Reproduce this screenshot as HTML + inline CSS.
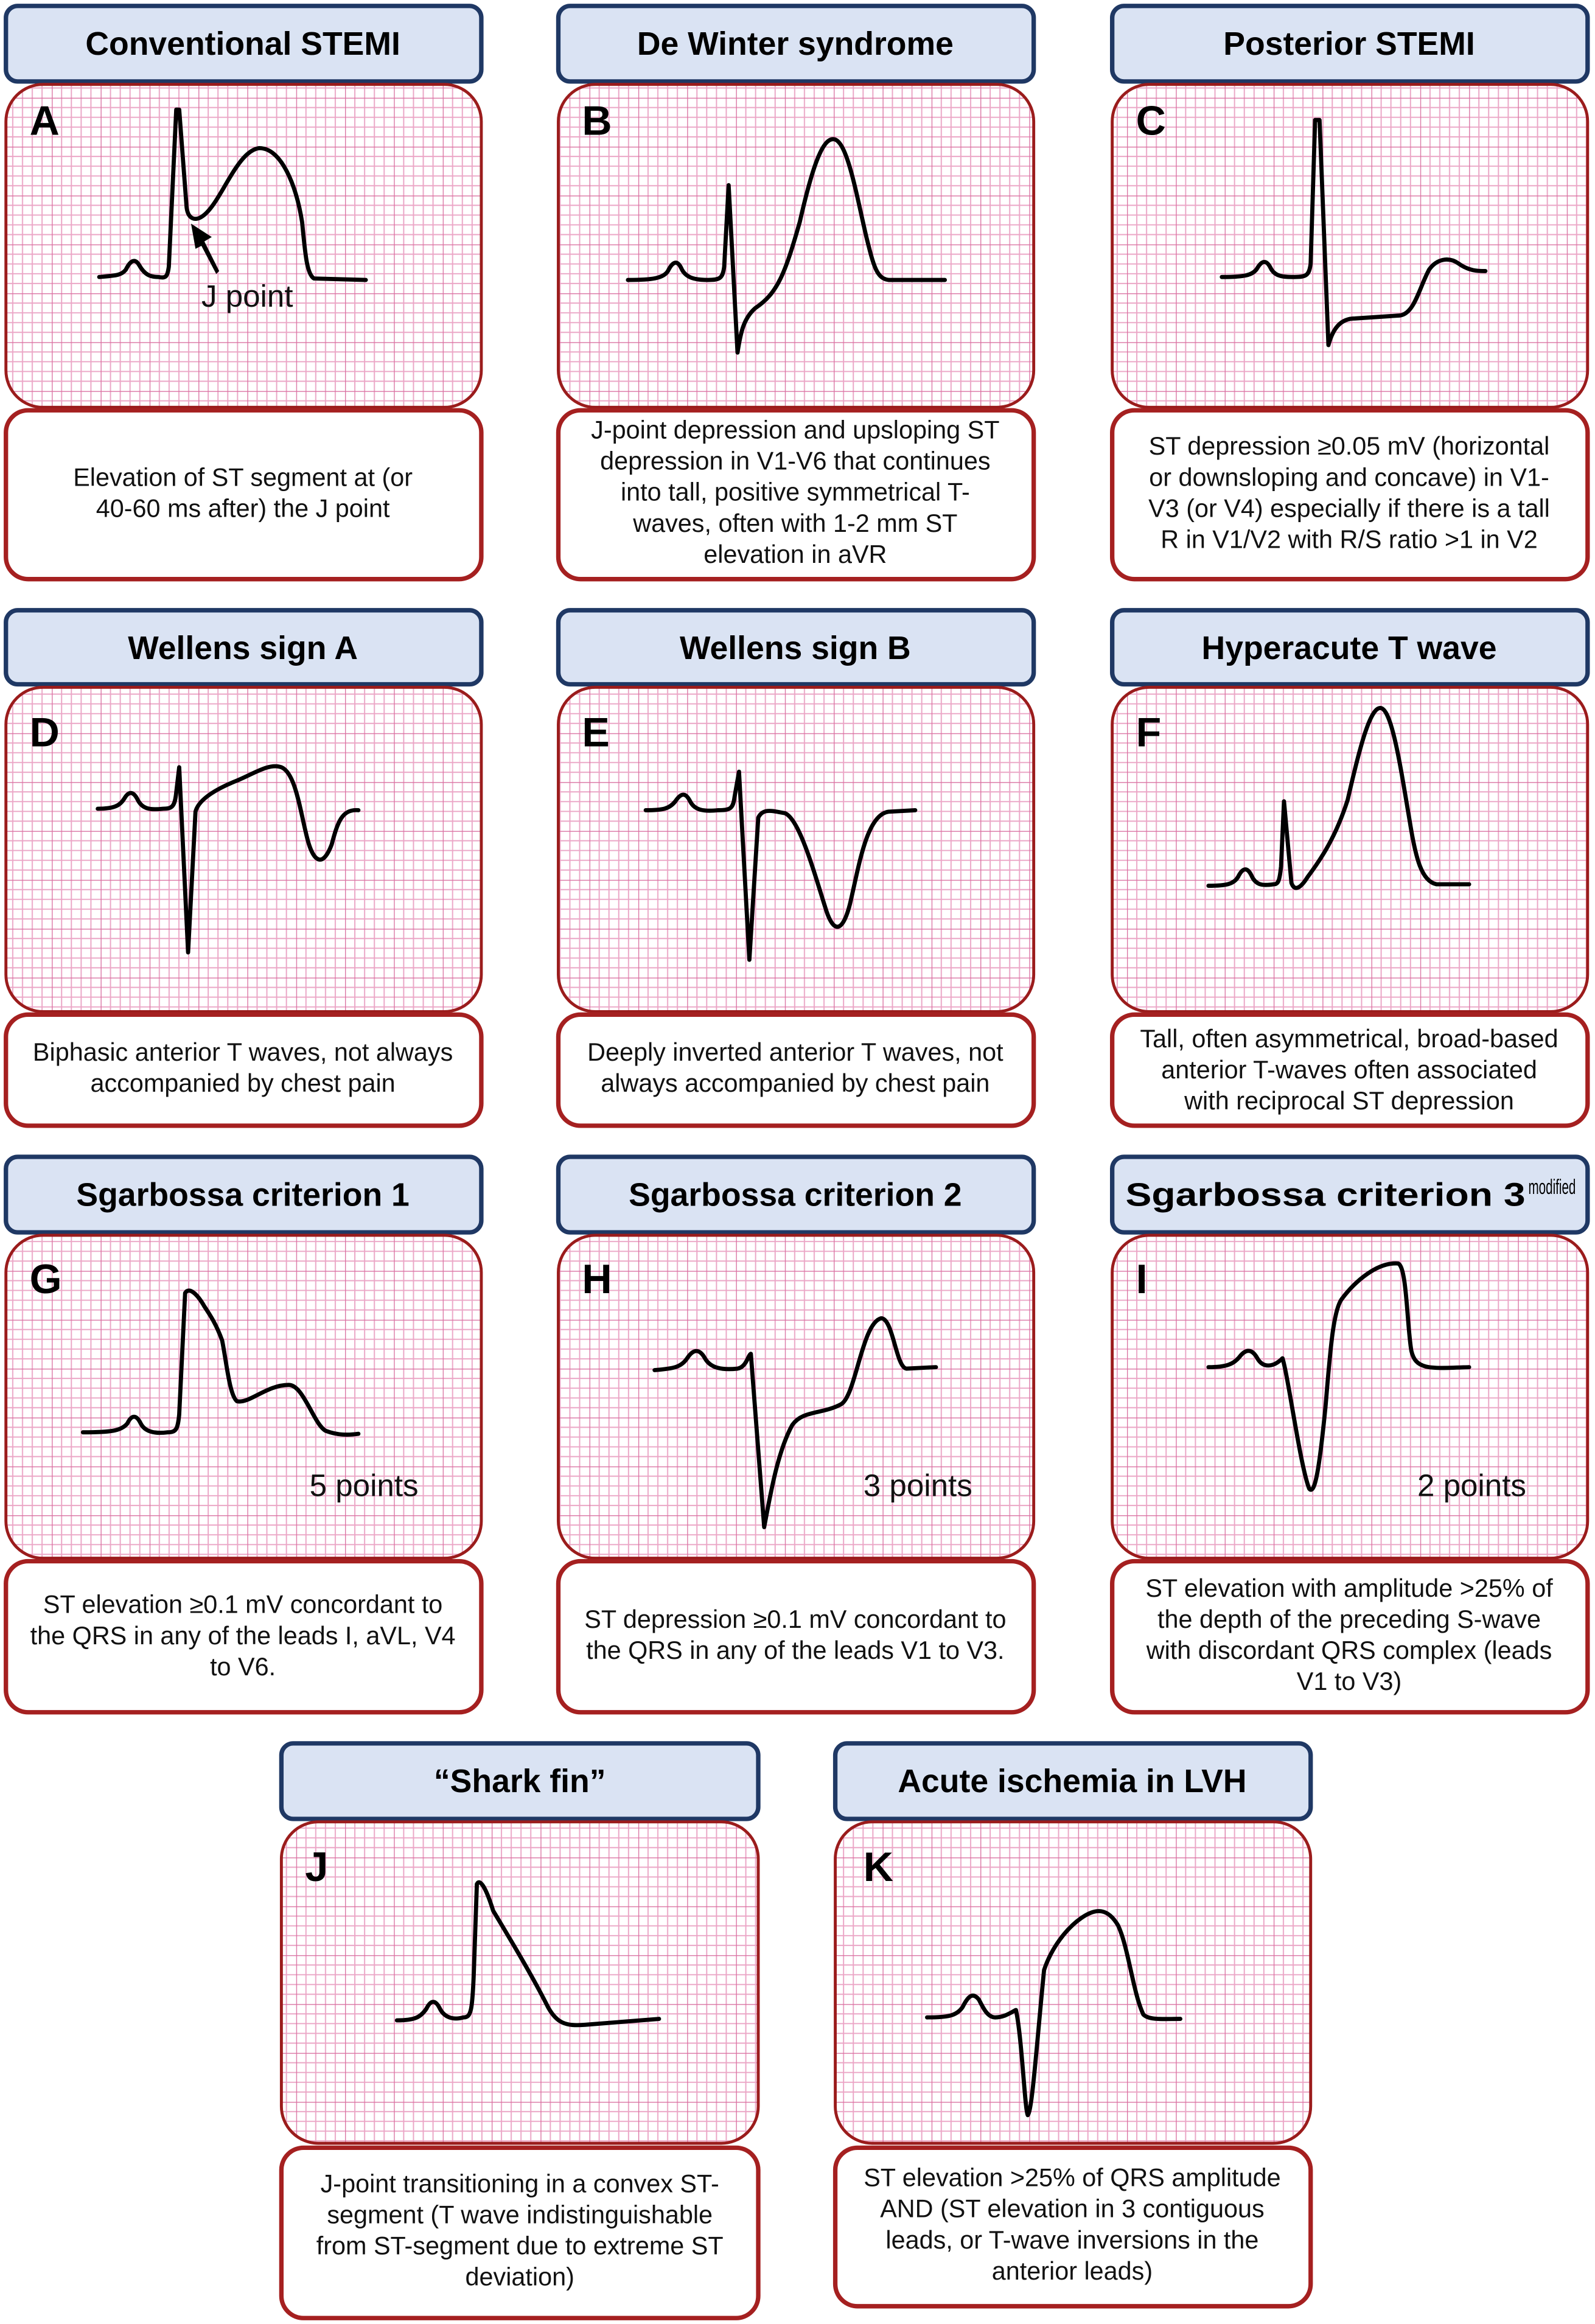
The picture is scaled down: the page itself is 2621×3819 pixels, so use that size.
<!DOCTYPE html>
<html><head><meta charset="utf-8"><style>
html,body{margin:0;padding:0;background:#fff}
svg{display:block}
text{font-family:"Liberation Sans",Arial,sans-serif}
.t{font-weight:bold;font-size:22px;fill:#000;text-anchor:middle}
.l{font-size:28px;fill:#000;font-weight:bold}
.c{font-size:17px;fill:#111;text-anchor:middle}
.w{fill:none;stroke:#000;stroke-width:2.8;stroke-linejoin:round;stroke-linecap:round}
.tb{fill:#dae3f3;stroke:#1f3864;stroke-width:3}
.gp{fill:url(#grid);stroke:#9b1c1c;stroke-width:2}
.cb{fill:#fff;stroke:#a52020;stroke-width:3}
</style></head><body>
<svg width="2621" height="3819" viewBox="0 0 1077 1569" preserveAspectRatio="none" xmlns="http://www.w3.org/2000/svg">
<defs>
<pattern id="grid" width="33" height="33" patternUnits="userSpaceOnUse" x="2" y="0">
<rect width="33" height="33" fill="#fff"/>
<path d="M6.6 0V33M13.2 0V33M19.8 0V33M26.4 0V33M0 6.6H33M0 13.2H33M0 19.8H33M0 26.4H33" stroke="#eba6c6" stroke-width="0.8"/>
<path d="M0 0V33M0 0H33" stroke="#da72a2" stroke-width="1.1"/>
</pattern>
</defs>

<!-- Row 1 -->
<rect class="tb" x="4" y="4" width="321" height="51" rx="8"/><text class="t" x="164" y="37">Conventional STEMI</text>
<rect class="gp" x="4" y="57" width="321" height="218" rx="25"/><text class="l" x="20" y="91">A</text>
<rect class="cb" x="4" y="277" width="321" height="114" rx="15"/>
<text class="c" x="164" y="328">Elevation of ST segment at (or</text><text class="c" x="164" y="349">40-60 ms after) the J point</text>

<rect class="tb" x="377" y="4" width="321" height="51" rx="8"/><text class="t" x="537" y="37">De Winter syndrome</text>
<rect class="gp" x="377" y="57" width="321" height="218" rx="25"/><text class="l" x="393" y="91">B</text>
<rect class="cb" x="377" y="277" width="321" height="114" rx="15"/>
<text class="c" x="537" y="296">J-point depression and upsloping ST</text><text class="c" x="537" y="317">depression in V1-V6 that continues</text><text class="c" x="537" y="338">into tall, positive symmetrical T-</text><text class="c" x="537" y="359">waves, often with 1-2 mm ST</text><text class="c" x="537" y="380">elevation in aVR</text>

<rect class="tb" x="751" y="4" width="321" height="51" rx="8"/><text class="t" x="911" y="37">Posterior STEMI</text>
<rect class="gp" x="751" y="57" width="321" height="218" rx="25"/><text class="l" x="767" y="91">C</text>
<rect class="cb" x="751" y="277" width="321" height="114" rx="15"/>
<text class="c" x="911" y="307">ST depression ≥0.05 mV (horizontal</text><text class="c" x="911" y="328">or downsloping and concave) in V1-</text><text class="c" x="911" y="349">V3 (or V4) especially if there is a tall</text><text class="c" x="911" y="370">R in V1/V2 with R/S ratio &gt;1 in V2</text>

<!-- Row 2 -->
<rect class="tb" x="4" y="412" width="321" height="50" rx="8"/><text class="t" x="164" y="445">Wellens sign A</text>
<rect class="gp" x="4" y="464" width="321" height="219" rx="25"/><text class="l" x="20" y="504">D</text>
<rect class="cb" x="4" y="685" width="321" height="75" rx="15"/>
<text class="c" x="164" y="716">Biphasic anterior T waves, not always</text><text class="c" x="164" y="737">accompanied by chest pain</text>

<rect class="tb" x="377" y="412" width="321" height="50" rx="8"/><text class="t" x="537" y="445">Wellens sign B</text>
<rect class="gp" x="377" y="464" width="321" height="219" rx="25"/><text class="l" x="393" y="504">E</text>
<rect class="cb" x="377" y="685" width="321" height="75" rx="15"/>
<text class="c" x="537" y="716">Deeply inverted anterior T waves, not</text><text class="c" x="537" y="737">always accompanied by chest pain</text>

<rect class="tb" x="751" y="412" width="321" height="50" rx="8"/><text class="t" x="911" y="445">Hyperacute T wave</text>
<rect class="gp" x="751" y="464" width="321" height="219" rx="25"/><text class="l" x="767" y="504">F</text>
<rect class="cb" x="751" y="685" width="321" height="75" rx="15"/>
<text class="c" x="911" y="707">Tall, often asymmetrical, broad-based</text><text class="c" x="911" y="728">anterior T-waves often associated</text><text class="c" x="911" y="749">with reciprocal ST depression</text>

<!-- Row 3 -->
<rect class="tb" x="4" y="781" width="321" height="51" rx="8"/><text class="t" x="164" y="814">Sgarbossa criterion 1</text>
<rect class="gp" x="4" y="834" width="321" height="218" rx="25"/><text class="l" x="20" y="873">G</text>
<rect class="cb" x="4" y="1054" width="321" height="102" rx="15"/>
<text class="c" x="164" y="1089">ST elevation ≥0.1 mV concordant to</text><text class="c" x="164" y="1110">the QRS in any of the leads I, aVL, V4</text><text class="c" x="164" y="1131">to V6.</text>

<rect class="tb" x="377" y="781" width="321" height="51" rx="8"/><text class="t" x="537" y="814">Sgarbossa criterion 2</text>
<rect class="gp" x="377" y="834" width="321" height="218" rx="25"/><text class="l" x="393" y="873">H</text>
<rect class="cb" x="377" y="1054" width="321" height="102" rx="15"/>
<text class="c" x="537" y="1099">ST depression ≥0.1 mV concordant to</text><text class="c" x="537" y="1120">the QRS in any of the leads V1 to V3.</text>

<rect class="tb" x="751" y="781" width="321" height="51" rx="8"/><text x="760" y="814" textLength="270" lengthAdjust="spacingAndGlyphs" style="font-weight:bold;font-size:22px">Sgarbossa criterion 3</text><text x="1032" y="806" textLength="32" lengthAdjust="spacingAndGlyphs" style="font-size:14px">modified</text>
<rect class="gp" x="751" y="834" width="321" height="218" rx="25"/><text class="l" x="767" y="873">I</text>
<rect class="cb" x="751" y="1054" width="321" height="102" rx="15"/>
<text class="c" x="911" y="1078">ST elevation with amplitude &gt;25% of</text><text class="c" x="911" y="1099">the depth of the preceding S-wave</text><text class="c" x="911" y="1120">with discordant QRS complex (leads</text><text class="c" x="911" y="1141">V1 to V3)</text>

<!-- Row 4 -->
<rect class="tb" x="190" y="1177" width="322" height="51" rx="8"/><text class="t" x="351" y="1210">“Shark fin”</text>
<rect class="gp" x="190" y="1230" width="322" height="217" rx="25"/><text class="l" x="206" y="1270">J</text>
<rect class="cb" x="190" y="1450" width="322" height="115" rx="15"/>
<text class="c" x="351" y="1480">J-point transitioning in a convex ST-</text><text class="c" x="351" y="1501">segment (T wave indistinguishable</text><text class="c" x="351" y="1522">from ST-segment due to extreme ST</text><text class="c" x="351" y="1543">deviation)</text>

<rect class="tb" x="564" y="1177" width="321" height="51" rx="8"/><text class="t" x="724" y="1210">Acute ischemia in LVH</text>
<rect class="gp" x="564" y="1230" width="321" height="217" rx="25"/><text class="l" x="583" y="1270">K</text>
<rect class="cb" x="564" y="1450" width="321" height="107" rx="15"/>
<text class="c" x="724" y="1476">ST elevation &gt;25% of QRS amplitude</text><text class="c" x="724" y="1497">AND (ST elevation in 3 contiguous</text><text class="c" x="724" y="1518">leads, or T-wave inversions in the</text><text class="c" x="724" y="1539">anterior leads)</text>

<!-- Waves -->
<path class="w" d="M67 187 C78 186 82 186 85 182 C88 176 91 174 94 179 C98 186 102 187 107 187 C112 188 113 187 114 180 L119 74 L121 74 L126 140 C127 148 132 150 138 145 C150 135 160 102 175 100 C190 100 200 125 204 150 C206 170 207 185 212 188 L247 189"/>
<path d="M148 183 L138 163 L143 160 L129 151 L132 168 L136 166 L146 185 Z" fill="#000"/>
<text x="136" y="207" style="font-size:21px;fill:#111">J point</text>

<path class="w" d="M424 189 C440 189 448 188 451 183 C454 177 457 175 460 181 C463 188 470 189 478 189 C486 189 488 188 489 180 L492 125 L498 238 C500 225 502 215 510 208 C525 198 530 185 540 150 C548 115 555 93 563 94 C572 95 578 130 585 160 C590 180 592 188 600 189 L638 189"/>

<path class="w" d="M825 187 C840 187 846 186 849 181 C852 176 855 175 858 181 C861 187 867 187 874 187 C882 187 884 186 885 178 L888 81 L891 81 L897 233 C900 222 905 215 915 215 L945 213 C955 212 958 195 965 182 C970 175 978 173 985 178 C992 183 998 183 1003 183"/>

<path class="w" d="M66 546 C77 546 81 544 84 539 C87 534 90 534 93 540 C96 546 101 547 110 546 C116 546 118 545 119 535 L121 518 L127 643 L132 548 C134 540 145 533 160 527 C172 522 182 515 190 518 C200 522 203 550 208 568 C212 582 218 586 224 570 C228 555 231 546 242 547"/>

<path class="w" d="M436 547 C448 547 452 546 456 541 C460 535 463 535 466 541 C469 547 475 548 485 547 C493 547 495 546 496 538 L499 521 L506 648 L512 552 C515 546 520 547 530 549 C540 553 550 590 558 615 C563 630 569 630 574 610 C580 585 585 550 600 548 L618 547"/>

<path class="w" d="M816 598 C828 598 833 597 836 592 C839 586 842 585 845 591 C848 598 853 598 860 597 C863 597 864 595 865 585 L867 541 L872 596 C874 602 878 600 883 592 C892 580 902 565 910 540 C918 505 925 478 932 478 C940 478 946 520 952 555 C956 580 960 595 970 597 L992 597"/>

<path class="w" d="M56 967 C75 967 82 966 86 961 C89 955 92 955 95 961 C98 967 105 968 113 967 C119 967 120 965 121 955 L125 873 C128 868 134 875 138 882 C142 888 146 894 150 905 C153 920 155 942 160 946 C168 948 180 935 195 935 C205 935 212 962 220 966 C228 969 235 969 242 968"/>
<text x="209" y="1010" style="font-size:21px;fill:#111">5 points</text>

<path class="w" d="M442 925 C455 924 460 923 464 917 C468 911 472 910 476 917 C480 924 488 925 498 924 C504 923 505 915 507 914 L516 1031 C520 1010 525 980 535 962 C542 952 555 955 568 948 C578 942 582 893 595 890 C603 890 605 923 612 924 L632 923"/>
<text x="583" y="1010" style="font-size:21px;fill:#111">3 points</text>

<path class="w" d="M816 923 C828 923 833 921 837 916 C841 911 845 910 849 917 C853 924 860 923 866 917 C870 930 878 990 884 1005 C888 1010 891 990 895 950 C898 915 900 885 906 877 C915 865 930 852 944 853 C950 855 950 895 953 912 C956 925 965 924 992 923"/>
<text x="957" y="1010" style="font-size:21px;fill:#111">2 points</text>

<path class="w" d="M268 1364 C280 1364 284 1362 288 1356 C291 1350 294 1350 297 1356 C300 1362 306 1364 313 1362 C318 1362 319 1358 320 1330 L322 1272 C324 1268 328 1274 333 1290 C345 1310 360 1335 370 1355 C376 1366 382 1368 395 1367 L445 1363"/>

<path class="w" d="M626 1362 C640 1362 646 1361 650 1355 C654 1347 657 1345 661 1350 C664 1356 667 1362 672 1362 C678 1362 682 1359 686 1357 C690 1375 692 1425 694 1428 C697 1425 700 1380 705 1330 C710 1315 720 1302 730 1295 C740 1288 748 1288 755 1300 C762 1315 765 1345 772 1360 C776 1364 785 1363 797 1363"/>
</svg>
</body></html>
